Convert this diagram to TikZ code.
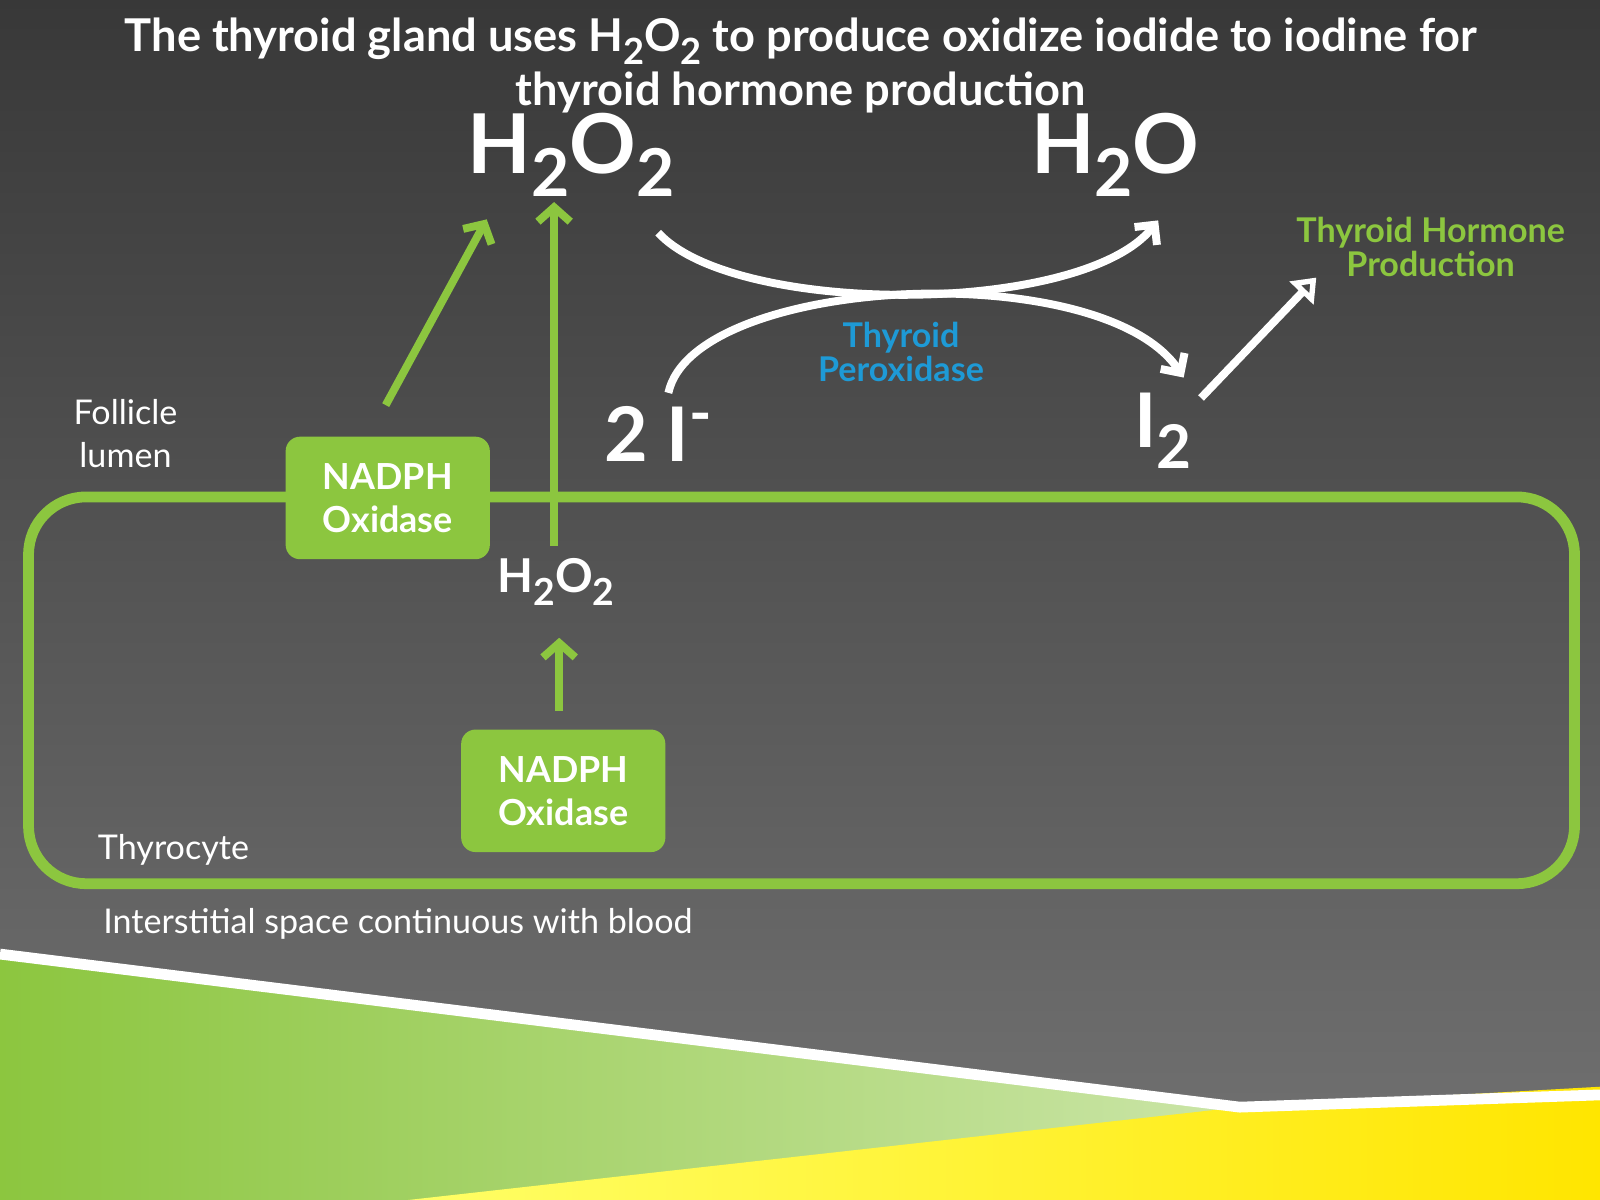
\documentclass[tikz,border=0pt]{standalone}
\usepackage{fontspec}
\setmainfont{Lato}
\usetikzlibrary{arrows.meta}
\definecolor{lg}{HTML}{8CC63F}
\definecolor{tb}{HTML}{1E9AD6}
\newcommand\lo[1]{\raisebox{-0.28em}{\scalebox{0.8}{#1}}}
\tikzset{
 garrow/.style={draw=lg,line width=2.2pt,-{Straight Barb[length=4pt,width=9pt]}},
 warrow/.style={draw=white,line width=2.2pt,-{Straight Barb[length=4pt,width=8pt]}},
 nbox/.style={fill=lg,rounded corners=4pt,text=white,font=\fontsize{10}{12}\selectfont\bfseries,minimum width=2cm,minimum height=1.2cm,align=center},
 wt/.style={text=white,font=\fontsize{9.5}{12}\selectfont},
}
\begin{document}
\begin{tikzpicture}[x=0.01cm,y=-0.01cm]
\useasboundingbox (0,0) rectangle (1568,1176);
\shade[top color=black!78,bottom color=black!55] (0,0) rectangle (1568,1176);
% bottom bands
\shade[left color=lg,right color=lg!30] (0,935) -- (1215,1085) -- (1568,1075) -- (1568,1176) -- (0,1176) -- cycle;
\shade[left color=yellow!60!white,right color=yellow!80!orange] (1215,1085) -- (1568,1065) -- (1568,1176) -- (400,1176) -- cycle;
\draw[white,line width=3pt] (0,935) -- (1215,1085) -- (1568,1073);
% title
\node[text=white,font=\fontsize{12.6}{15}\selectfont\bfseries,align=center] (title) at (785,64) {The thyroid gland uses H\lo{2}O\lo{2} to produce oxidize iodide to iodine for\\thyroid hormone production};
% cell
\draw[lg,line width=3pt,rounded corners=16pt] (28,487) rectangle (1543,866);
\node[nbox] (n1) at (380,488) {NADPH\\Oxidase};
\node[nbox] (n2) at (552,775) {NADPH\\Oxidase};
\node[text=white,font=\fontsize{13}{15}\selectfont\bfseries] (h2o2s) at (545,570) {H\lo{2}O\lo{2}};
\node[text=white,font=\fontsize{23}{26}\selectfont\bfseries] (h2o2) at (560,152) {H\lo{2}O\lo{2}};
\node[text=white,font=\fontsize{23}{26}\selectfont\bfseries] (h2o) at (1093,152) {H\lo{2}O};
\node[text=white,font=\fontsize{21}{24}\selectfont\bfseries] (iod) at (645,425) {2 I\raisebox{0.35em}{\scalebox{0.8}{-}}};
\node[text=white,font=\fontsize{21}{24}\selectfont\bfseries] (i2) at (1140,422) {I\lo{2}};
\node[text=tb,font=\fontsize{9.5}{9.5}\selectfont\bfseries,align=center] (tpo) at (883,345) {Thyroid\\Peroxidase};
\node[text=lg,font=\fontsize{9.5}{9.5}\selectfont\bfseries,align=center] (thp) at (1402,242) {Thyroid Hormone\\Production};
\node[wt,align=center] (fl) at (123,425) {Follicle\\lumen};
\node[wt] (thy) at (170,833) {Thyrocyte};
\node[wt] (int) at (390,905) {Interstitial space continuous with blood};
% arrows
\coordinate (a1) at (378,397); \coordinate (a1e) at (477,215);
\draw[garrow] (a1) -- (a1e);
\coordinate (a2) at (543,535); \coordinate (a2e) at (543,198);
\draw[garrow] (a2) -- (a2e);
\coordinate (a3) at (548,697); \coordinate (a3e) at (548,625);
\draw[garrow] (a3) -- (a3e);
\coordinate (c1) at (645,228); \coordinate (c1e) at (1135,216);
\draw[warrow] (c1) .. controls (720,310) and (1060,310) .. (c1e);
\coordinate (c2) at (655,385); \coordinate (c2e) at (1160,370);
\draw[warrow] (c2) .. controls (680,270) and (1080,250) .. (c2e);
\coordinate (c3) at (1177,390); \coordinate (c3e) at (1290,272);
\draw[draw=white,line width=2.2pt,-{Triangle[open,length=6pt,width=9pt,line width=2pt]}] (c3) -- (c3e);
\end{tikzpicture}
\end{document}
